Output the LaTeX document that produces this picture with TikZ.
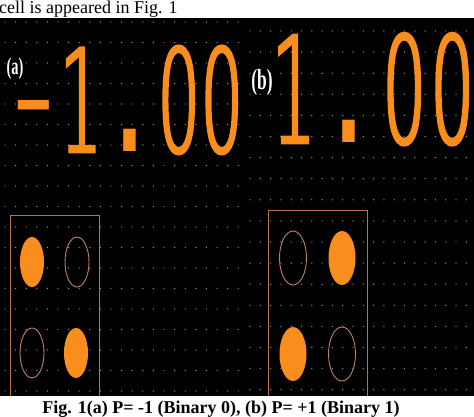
\documentclass[tikz,border=0pt]{standalone}
\usepackage{fontspec}
\setmainfont{Liberation Serif}
\newfontfamily\readoutfont[FakeStretch=0.46,FakeBold=2]{DejaVu Sans ExtraLight}
\newfontfamily\pointfont[FakeStretch=0.6]{DejaVu Sans Bold}
\newfontfamily\signfont{DejaVu Sans}
\newfontfamily\tagfont[FakeStretch=0.6]{Liberation Serif}
\newcommand\readoutpoint{{\pointfont\fontsize{118}{118}\selectfont.}}
\usetikzlibrary{shapes.geometric,positioning}
\definecolor{scopeorange}{HTML}{F98E1D}
\definecolor{ringbrown}{HTML}{C0825C}
\definecolor{framebrown}{HTML}{B8734C}
\definecolor{gridgrey}{HTML}{8C9498}

\begin{document}
\begin{tikzpicture}[x=1pt, y=-1pt,
  readout/.style={inner sep=0, anchor=base west, text=scopeorange, text depth=0pt},
  tag/.style={inner sep=0, text=white},
  cellframe/.style={draw=framebrown, line width=1.3pt, anchor=north west, inner sep=0},
  dotfull/.style={ellipse, fill=scopeorange, inner sep=0},
  dotempty/.style={ellipse, draw=ringbrown, line width=0.9pt, inner sep=0},
  smallcell/.style={minimum width=24pt, minimum height=50pt},
  bigcell/.style={minimum width=27pt, minimum height=54pt},
]
\useasboundingbox (0,0) rectangle (474,417);
\fill[white] (0,0) rectangle (474,417);
\fill[black] (0,18) rectangle (474,396);

\foreach \i in {0,...,22}
  \foreach \j in {0,...,18}
    \fill[gridgrey] (5+10.6*\i, 22+20.5*\j) circle (0.7);
\foreach \i in {0,...,21}
  \foreach \j in {0,...,17}
    \fill[gridgrey] (250+10.3*\i, 31+21.1*\j) circle (0.7);

\node[cellframe, minimum width=89pt, minimum height=183pt] (cellA) at (10,215) {};
\node[cellframe, minimum width=99pt, minimum height=188pt] (cellB) at (268,210) {};

\node[dotfull, smallcell] (a1) at (32,262) {};
\node[dotempty, smallcell] (a2) at (77,262) {};
\node[dotempty, smallcell] (a3) at (32,353) {};
\node[dotfull, smallcell] (a4) at (76,353) {};

\node[dotempty, bigcell] (b1) at (293,258) {};
\node[dotfull, bigcell] (b2) at (342,258) {};
\node[dotfull, bigcell] (b3) at (293,354) {};
\node[dotempty, bigcell] (b4) at (342,354) {};

\node[readout, text height=104pt] (valA) at (12.7,152)
  {\signfont\fontsize{118}{118}\selectfont\raisebox{14pt}{-}\readoutfont\fontsize{143}{143}\selectfont\kern4.5pt 1\kern14.9pt\readoutpoint\kern14.3pt 0\kern1.2pt 0};
\node[readout, text height=108pt] (valB) at (272,143)
  {\readoutfont\fontsize{148}{148}\selectfont 1\kern20.2pt\readoutpoint\kern20.1pt 0\kern4.7pt 0};

\node[tag, font=\tagfont\bfseries\fontsize{24}{24}\selectfont] (tagA) at (15,69) {(a)};
\node[tag, font=\tagfont\bfseries\fontsize{29}{29}\selectfont] (tagB) at (262,83) {(b)};

\fill[white] (0,396) rectangle (474,417);
\node[inner sep=0, anchor=base west, font=\fontsize{18}{18}\selectfont] (intro) at (-1,14) {cell is appeared in Fig. 1};
\node[inner sep=0, anchor=base, font=\bfseries\fontsize{18}{18}\selectfont] (caption) at (221,413) {Fig. 1(a) P= -1 (Binary 0), (b) P= +1 (Binary 1)};
\end{tikzpicture}
\end{document}
